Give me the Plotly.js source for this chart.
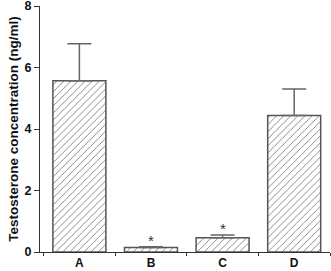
<!DOCTYPE html>
<html>
<head>
<meta charset="utf-8">
<script src="https://cdn.plot.ly/plotly-3.0.1.min.js"></script>
<style>html,body{margin:0;padding:0;background:#fff;}#chart{width:331px;height:271px;}</style>
</head>
<body>
<div id="chart"></div>
<script>
const categories = ["A", "B", "C", "D"];
const values = [5.57, 0.15, 0.46, 4.44];
const errors = [1.2, 0.02, 0.09, 0.86];
const significant = [false, true, true, false];
const yTickVals = [0, 2, 4, 6, 8];

const annotations = categories.map((c, i) => significant[i] ? {
  x: c, y: values[i] + errors[i], text: "*", showarrow: false,
  yanchor: "bottom", yshift: -4, font: {family: "Arial, Liberation Sans", size: 15, color: "#333"}
} : null).filter(Boolean);

const trace = {
  type: "bar",
  x: categories,
  y: values,
  width: 0.74,
  marker: {
    color: "#ffffff",
    line: {color: "#555555", width: 1.5},
    pattern: {shape: "/", size: 5, solidity: 0.16, fgcolor: "#707070", bgcolor: "#ffffff"}
  },
  error_y: {type: "data", array: errors, visible: true, symmetric: false, arrayminus: errors.map(() => 0), color: "#666666", thickness: 1.5, width: 12}
};

const layout = {
  width: 331, height: 271,
  margin: {l: 40, r: 1, t: 6, b: 19},
  paper_bgcolor: "#fff", plot_bgcolor: "#fff",
  showlegend: false,
  xaxis: {
    type: "category", range: [-0.55, 3.5],
    showline: true, linecolor: "#333", linewidth: 1,
    ticks: "outside", tickson: "boundaries", ticklen: 3, tickcolor: "#333",
    showgrid: false, zeroline: false,
    tickfont: {family: "Arial, Liberation Sans", size: 12, color: "#111", weight: "bold"}
  },
  yaxis: {
    range: [0, 8], tickvals: yTickVals,
    showline: true, linecolor: "#333", linewidth: 1,
    ticks: "outside", ticklen: 5, tickcolor: "#333",
    ticklabeloverflow: "allow",
    showgrid: false, zeroline: false,
    tickfont: {family: "Arial, Liberation Sans", size: 12.5, color: "#111", weight: "bold"},
    title: {text: "Testosterone concentration (ng/ml)", standoff: 2,
      font: {family: "Arial, Liberation Sans", size: 13.5, color: "#111", weight: "bold"}}
  },
  annotations: annotations
};

Plotly.newPlot("chart", [trace], layout, {displayModeBar: false, staticPlot: true});
</script>
</body>
</html>
